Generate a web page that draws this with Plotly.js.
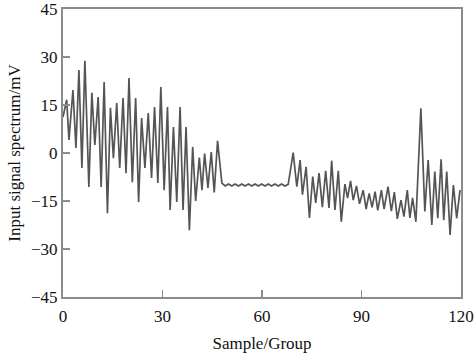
<!DOCTYPE html>
<html>
<head>
<meta charset="utf-8">
<script src="https://cdn.plot.ly/plotly-3.0.1.min.js"></script>
<style>
html,body{margin:0;padding:0;background:#fff;}
#chart{width:474px;height:354px;}
</style>
</head>
<body>
<div id="chart"></div>
<script>
// Sample positions (Sample/Group) and signal values (mV)
const sampleX = [
  0, 1.1, 1.8, 3.0, 3.9, 4.8, 5.7, 6.6, 7.8, 8.7, 9.6, 10.6, 11.5, 12.4, 13.4, 14.3, 15.2, 16.2, 17.1, 18.1,
  19.0, 19.9, 20.9, 21.9, 22.8, 23.7, 24.7, 25.7, 26.7, 27.6, 28.6, 29.5, 30.5, 31.5, 32.3, 33.3, 34.3, 35.3,
  36.2, 37.1, 38.1, 39.1, 40.0, 41.1, 41.9, 42.7, 43.7, 44.7, 45.6, 46.6, 47.9,
  48.9, 49.9, 50.9, 51.9, 52.9, 53.9, 54.9, 55.9, 56.9, 57.9, 58.9, 59.9, 60.9, 61.9, 62.9, 63.9, 64.9, 65.9, 66.9, 67.9,
  69.4, 70.5, 71.5, 72.2, 73.3, 74.3, 75.3, 76.2, 77.2, 78.2, 79.2, 80.2, 81.0, 82.0, 83.0, 83.9, 85.0, 85.8,
  86.7, 87.5, 88.5, 89.4, 90.5, 91.4, 92.3, 93.2, 94.1, 94.9, 96.0, 96.8, 98.0, 99.0, 99.9, 100.8, 101.9, 102.8,
  103.8, 104.6, 105.4, 106.4, 107.9, 109.1, 110.1, 111.2, 112.1, 113.0, 114.0, 114.8, 115.7, 116.7, 117.7, 118.7, 119.7
];
const signalMV = [
  11.2, 16.6, 4.1, 19.7, 1.6, 25.9, -4.7, 28.8, -10.6, 18.8, 2.5, 17.5, -10.6, 22.2, -18.8, 14.1, -1.6, 15.6, -4.7, 17.2,
  -6.3, 23.4, -9.1, 17.2, -15.3, 10.9, -4.7, 12.5, -7.8, 14.4, -9.4, 20.6, -11.6, 14.4, -17.8, 8.1, -15.3, 14.4,
  -17.8, 8.1, -24.1, 1.9, -15.0, -1.4, -11.6, -0.2, -10.9, 0.3, -12.3, 3.8, -9.4,
  -10.3, -9.7, -10.3, -9.7, -10.3, -9.7, -10.3, -9.7, -10.3, -9.7, -10.3, -9.7, -10.3, -9.7, -10.3, -9.7, -10.3, -9.7, -10.3, -9.8,
  0.1, -10.5, -2.2, -13.0, -4.3, -20.3, -7.4, -15.6, -6.3, -16.9, -5.6, -17.2, -2.4, -17.8, -5.6, -21.5, -9.7, -14.1,
  -8.7, -14.7, -10.3, -15.9, -11.6, -17.5, -12.6, -17.0, -12.1, -17.9, -11.6, -17.5, -10.5, -18.2, -12.2, -20.6, -14.7, -19.9,
  -11.6, -20.3, -14.0, -21.5, 14.0, -18.3, -2.2, -22.5, -5.8, -20.4, -2.0, -21.0, -5.8, -25.6, -10.0, -20.4, -11.6
];
const xTicks = [0, 30, 60, 90, 120];
const yTicks = [-45, -30, -15, 0, 15, 30, 45];

const axisColor = '#8c8c8c';
const font = {family: '"Liberation Serif", "Times New Roman", serif', size: 17, color: '#111'};

Plotly.newPlot('chart', [{
  x: sampleX,
  y: signalMV,
  type: 'scatter',
  mode: 'lines',
  line: {color: '#555555', width: 1.7},
  hoverinfo: 'skip'
}], {
  width: 474,
  height: 354,
  margin: {l: 63, r: 13, t: 9, b: 57},
  paper_bgcolor: '#fff',
  plot_bgcolor: '#fff',
  showlegend: false,
  font: font,
  xaxis: {
    range: [0, 120],
    tickvals: xTicks,
    ticktext: xTicks.map(String),
    ticks: 'inside',
    ticklen: 7,
    tickwidth: 1.5,
    tickcolor: axisColor,
    showline: true,
    linecolor: axisColor,
    linewidth: 2,
    mirror: true,
    showgrid: false,
    zeroline: false,
    tickfont: font,
    ticklabelstandoff: 3,
    ticklabeloverflow: 'allow',
    title: {text: 'Sample/Group', font: font, standoff: 12}
  },
  yaxis: {
    range: [-45, 45],
    tickvals: yTicks,
    ticktext: yTicks.map(v => v < 0 ? '\u2212' + Math.abs(v) : String(v)),
    ticks: 'inside',
    ticklen: 7,
    tickwidth: 1.5,
    tickcolor: axisColor,
    showline: true,
    linecolor: axisColor,
    linewidth: 2,
    mirror: true,
    showgrid: false,
    zeroline: false,
    tickfont: font,
    ticklabeloverflow: 'allow',
    title: {text: 'Input signal spectrum/mV', font: font, standoff: 6}
  }
}, {staticPlot: true, displayModeBar: false});
</script>
</body>
</html>
